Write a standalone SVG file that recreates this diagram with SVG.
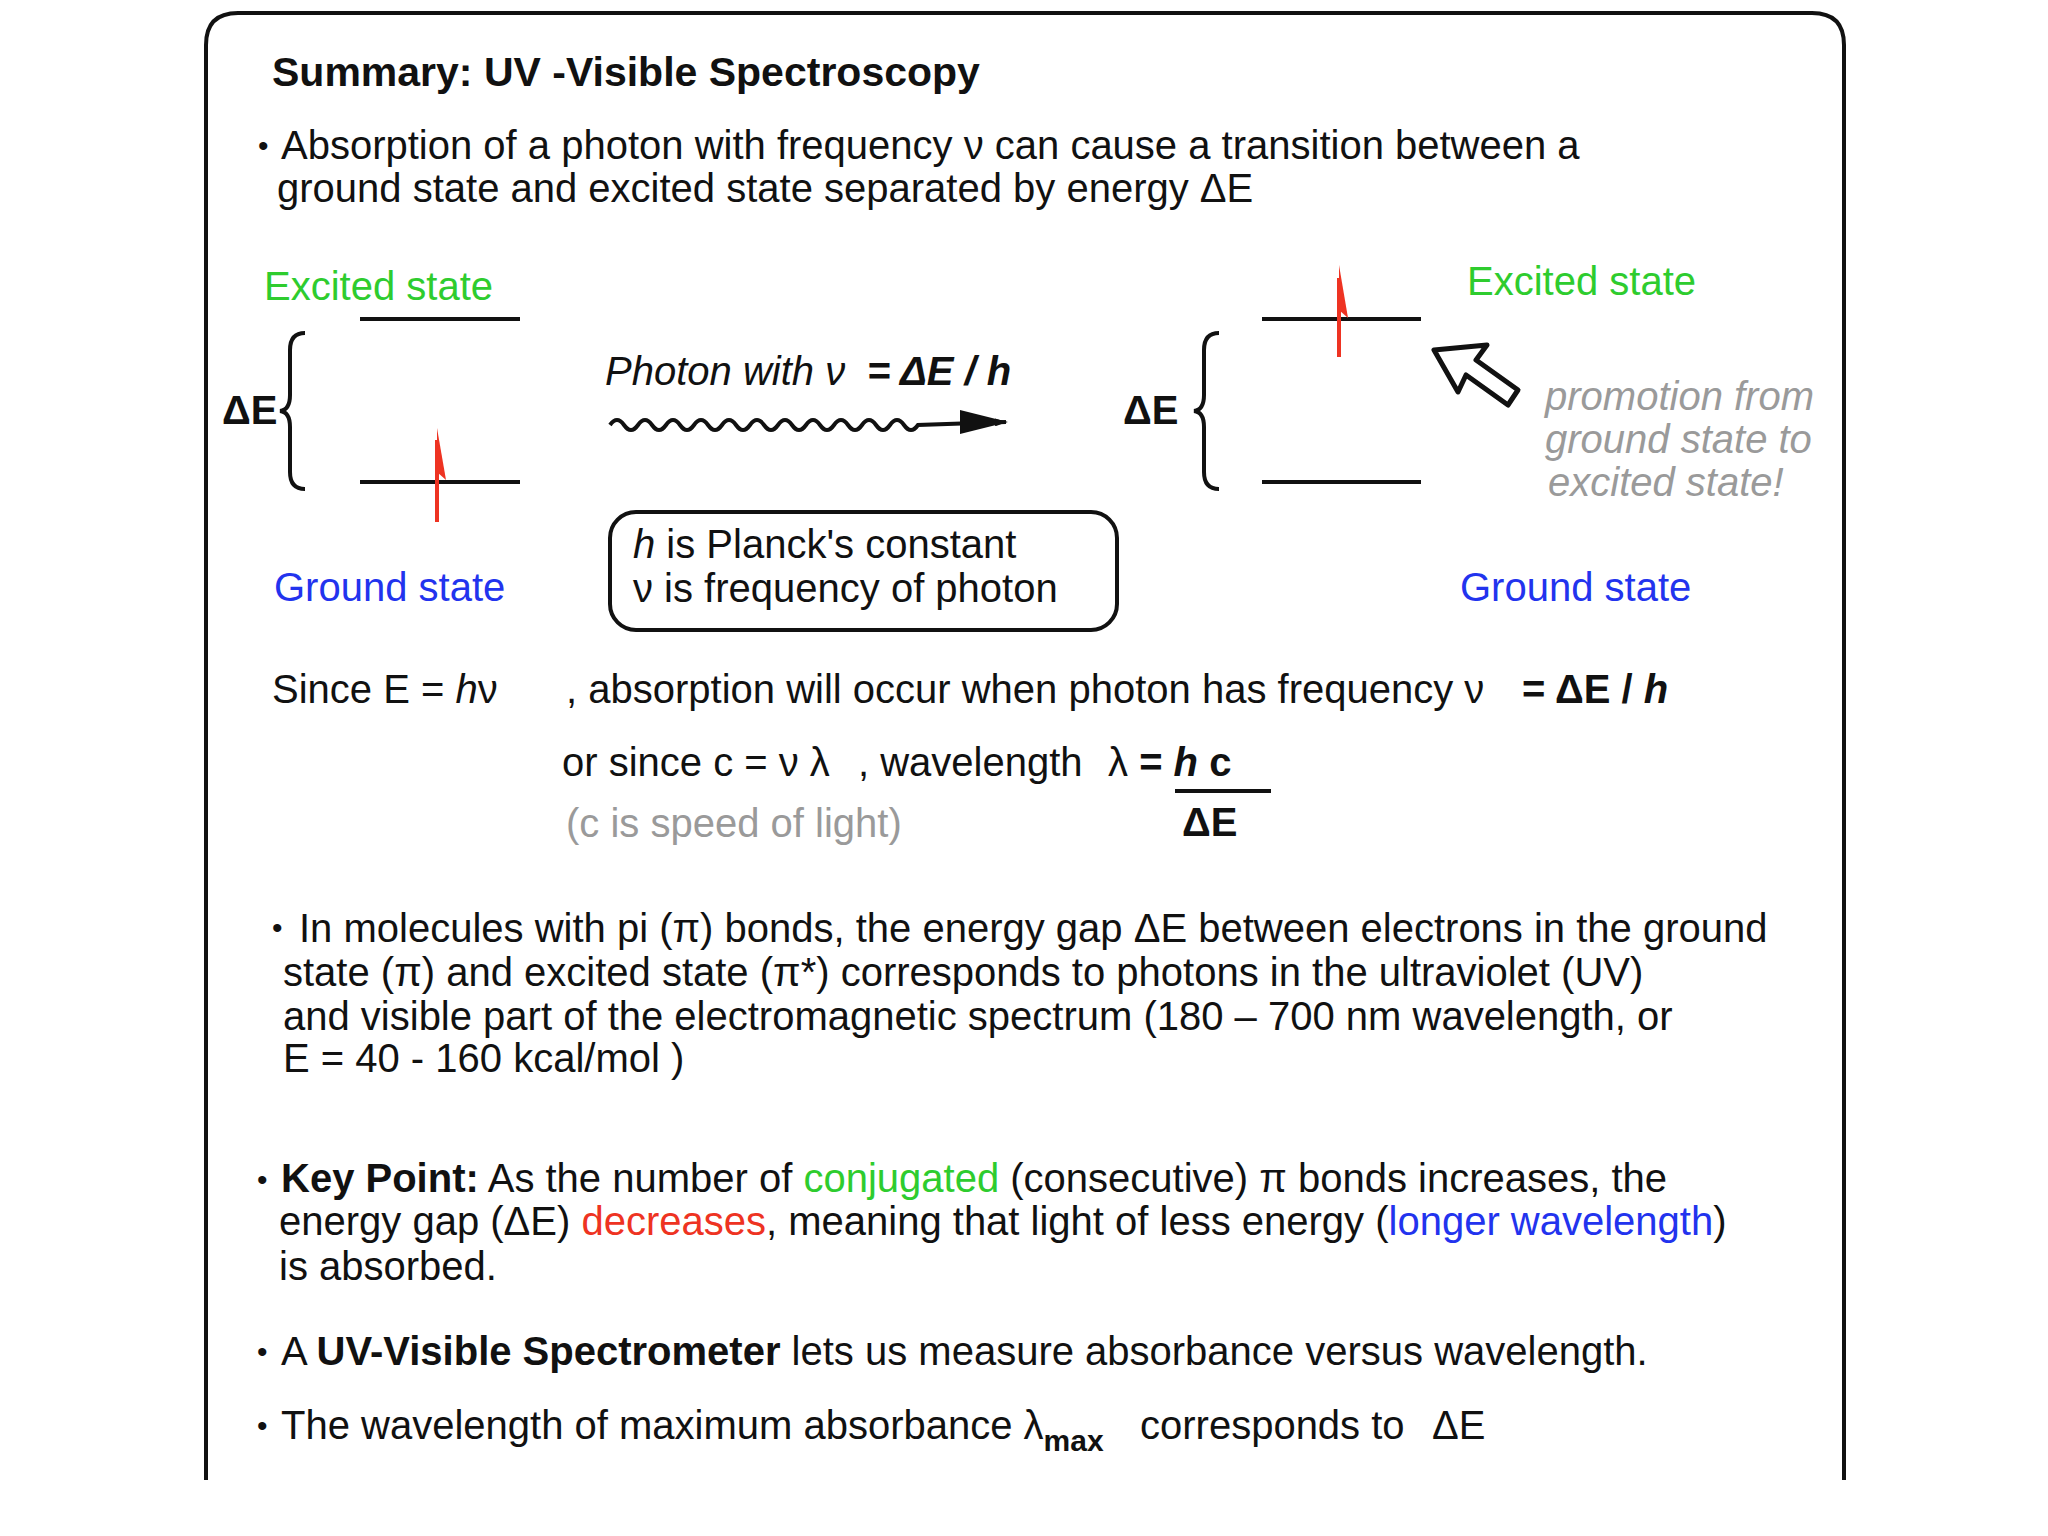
<svg xmlns="http://www.w3.org/2000/svg" width="2048" height="1536" viewBox="0 0 2048 1536">
<style>
text{font-family:"Liberation Sans",Arial,sans-serif;font-size:40px;fill:#111}
.t{font-weight:bold;font-size:41px}
.g{fill:#2ecc2e}.b{fill:#2233ee}.r{fill:#ee3322}.gr{fill:#9a9a9a}
.lv{stroke:#111;stroke-width:4}
.bl{font-size:30px}
</style>
<defs><marker id="ah" markerWidth="12" markerHeight="8" refX="11" refY="4" orient="auto" markerUnits="userSpaceOnUse" viewBox="0 0 12 8"><path d="M0,0 L12,4 L0,8 Z" fill="#111"/></marker></defs>
<rect width="2048" height="1536" fill="#fff"/>
<path d="M206,1480 V45 Q206,13 238,13 H1812 Q1844,13 1844,45 V1480" fill="none" stroke="#111" stroke-width="4"/>
<text class="t" x="272" y="86">Summary: UV -Visible Spectroscopy</text>
<text class="bl" x="258" y="156">•</text>
<text x="281" y="159">Absorption of a photon with frequency ν can cause a transition between a</text>
<text x="277" y="202">ground state and excited state separated by energy ΔE</text>
<g id="left-diagram">
<text class="g" x="264" y="300">Excited state</text>
<line class="lv" x1="360" y1="319" x2="520" y2="319"/>
<line class="lv" x1="360" y1="482" x2="520" y2="482"/>
<path d="M305,333 Q290,333 290,350 V395 Q290,410 280,411 Q290,412 290,427 V472 Q290,489 305,489" fill="none" stroke="#111" stroke-width="4"/>
<text x="222" y="424" style="font-weight:bold">ΔE</text>
<line x1="437" y1="522" x2="437" y2="440" stroke="#ee3322" stroke-width="4"/>
<polygon points="437,428 446,480 437,472" fill="#ee3322"/>
<text class="b" x="274" y="601">Ground state</text>
</g>
<g id="photon">
<text x="605" y="385" style="font-style:italic">Photon with ν</text>
<text x="867" y="385" style="font-weight:bold;font-style:italic">= ΔE / h</text>
<path d="M610,425 q7,-10 14,0 q7,10 14,0 q7,-10 14,0 q7,10 14,0 q7,-10 14,0 q7,10 14,0 q7,-10 14,0 q7,10 14,0 q7,-10 14,0 q7,10 14,0 q7,-10 14,0 q7,10 14,0 q7,-10 14,0 q7,10 14,0 q7,-10 14,0 q7,10 14,0 q7,-10 14,0 q7,10 14,0 q7,-10 14,0 q7,10 14,0 q7,-10 14,0 q7,10 14,0 L1006,422" fill="none" stroke="#111" stroke-width="4" marker-end="url(#ah)"/>
<polygon points="960,410 1008,422 960,434" fill="#111"/>
</g>
<g id="planck-box">
<rect x="610" y="512" width="507" height="118" rx="26" fill="none" stroke="#111" stroke-width="4"/>
<text x="633" y="558"><tspan style="font-style:italic">h</tspan> is Planck's constant</text>
<text x="633" y="602">ν is frequency of photon</text>
</g>
<g id="right-diagram">
<text x="1123" y="424" style="font-weight:bold">ΔE</text>
<path d="M1219,333 Q1204,333 1204,350 V395 Q1204,410 1194,411 Q1204,412 1204,427 V472 Q1204,489 1219,489" fill="none" stroke="#111" stroke-width="4"/>
<line class="lv" x1="1262" y1="319" x2="1421" y2="319"/>
<line class="lv" x1="1262" y1="482" x2="1421" y2="482"/>
<line x1="1339" y1="357" x2="1339" y2="278" stroke="#ee3322" stroke-width="4"/>
<polygon points="1339,265 1348,318 1339,310" fill="#ee3322"/>
<text class="g" x="1467" y="295">Excited state</text>
<text class="b" x="1460" y="601">Ground state</text>
<polygon points="1434,350 1487,345 1476,360 1518,390 1508,405 1466,375 1458,392" fill="#fff" stroke="#111" stroke-width="5" stroke-linejoin="round"/>
<text class="gr" x="1545" y="410" style="font-style:italic">promotion from</text>
<text class="gr" x="1545" y="453" style="font-style:italic">ground state to</text>
<text class="gr" x="1548" y="496" style="font-style:italic">excited state!</text>
</g>
<text x="272" y="703">Since E = <tspan style="font-style:italic">h</tspan>ν</text>
<text x="566" y="703">, absorption will occur when photon has frequency ν</text>
<text x="1522" y="703" style="font-weight:bold">= ΔE / <tspan style="font-style:italic">h</tspan></text>
<text x="562" y="776">or since c = ν λ</text>
<text x="858" y="776">, wavelength</text>
<text x="1108" y="776">λ <tspan style="font-weight:bold">= <tspan style="font-style:italic">h</tspan> c</tspan></text>
<line x1="1175" y1="791" x2="1271" y2="791" stroke="#111" stroke-width="4"/>
<text x="1182" y="836" style="font-weight:bold">ΔE</text>
<text class="gr" x="566" y="837">(c is speed of light)</text>
<text class="bl" x="272" y="938">•</text>
<text x="299" y="942">In molecules with pi (π) bonds, the energy gap ΔE between electrons in the ground</text>
<text x="283" y="986">state (π) and excited state (π*) corresponds to photons in the ultraviolet (UV)</text>
<text x="283" y="1030">and visible part of the electromagnetic spectrum (180 – 700 nm wavelength, or</text>
<text x="283" y="1072">E = 40 - 160 kcal/mol )</text>
<text class="bl" x="257" y="1190">•</text>
<text x="281" y="1192"><tspan style="font-weight:bold">Key Point:</tspan> As the number of <tspan class="g">conjugated</tspan> (consecutive) π bonds increases, the</text>
<text x="279" y="1235">energy gap (ΔE) <tspan class="r">decreases</tspan>, meaning that light of less energy (<tspan class="b">longer wavelength</tspan>)</text>
<text x="279" y="1280">is absorbed.</text>
<text class="bl" x="257" y="1362">•</text>
<text x="281" y="1365">A <tspan style="font-weight:bold">UV-Visible Spectrometer</tspan> lets us measure absorbance versus wavelength.</text>
<text class="bl" x="257" y="1436">•</text>
<text x="281" y="1439">The wavelength of maximum absorbance λ<tspan dy="12" style="font-weight:bold;font-size:30px">max</tspan></text>
<text x="1140" y="1439">corresponds to</text>
<text x="1432" y="1439">ΔE</text>
</svg>
